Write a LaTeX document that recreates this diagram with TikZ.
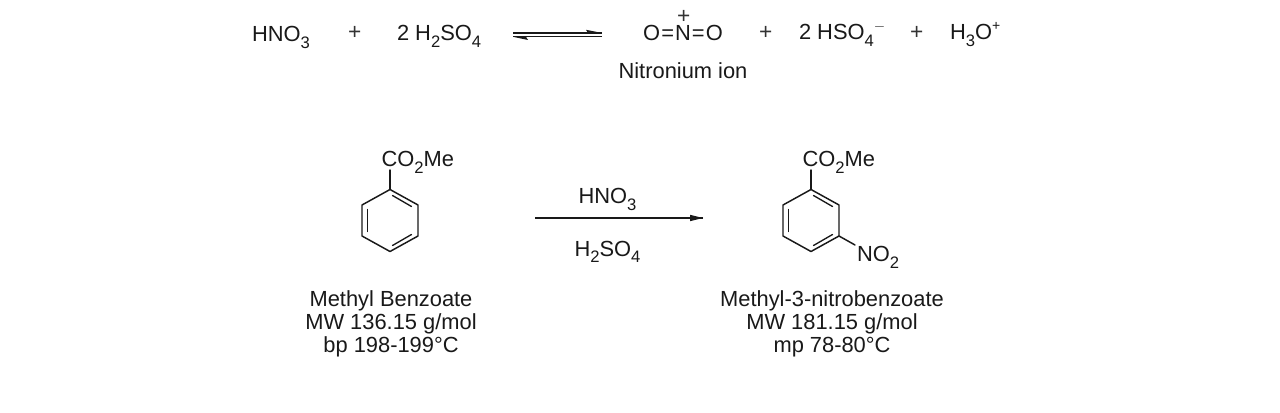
\documentclass[tikz,border=0pt]{standalone}
\usepackage{fontspec}
\setmainfont{Liberation Sans}
\usetikzlibrary{arrows.meta}
\tikzset{
  txt/.style={inner sep=0pt,outer sep=0pt,anchor=base west,font=\fontsize{16.4pt}{18pt}\selectfont,text=black!90},
  ctxt/.style={txt,anchor=base,align=center},
  captxt/.style={inner sep=0pt,outer sep=0pt,anchor=base,align=center,font=\fontsize{16.4pt}{17.3pt}\selectfont,text=black!90},
  plustxt/.style={txt,font=\fontsize{17pt}{18pt}\selectfont,text=black!80},
  bond/.style={draw=black!90,line width=1.1pt,line cap=round,line join=round},
  inner bond/.style={draw=black!90,line width=1pt,line cap=round},
  rxn/.style={draw=black!90,line width=0.95pt},
}
\newcommand{\subs}[1]{\raisebox{-0.32em}{\scalebox{0.76}{#1}}}
\newcommand{\sups}[1]{\raisebox{0.42em}{\fontsize{10.5pt}{12pt}\selectfont #1}}
\newcommand{\ringat}[3]{%
  \coordinate (#1t) at (#2,#3-31);
  \coordinate (#1tr) at (#2+28,#3-15.5);
  \coordinate (#1br) at (#2+28,#3+15.5);
  \coordinate (#1b) at (#2,#3+31);
  \coordinate (#1bl) at (#2-28,#3+15.5);
  \coordinate (#1tl) at (#2-28,#3-15.5);
  \draw[bond] (#1t) -- (#1tr) -- (#1br) -- (#1b) -- (#1bl) -- (#1tl) -- cycle;
  \draw[inner bond] (#2+2.5,#3-25) -- (#2+21.5,#3-14);
  \draw[inner bond] (#2+21.5,#3+14) -- (#2+2.5,#3+25);
  \draw[inner bond] (#2-22.5,#3-11) -- (#2-22.5,#3+11);
}
\begin{document}
\begin{tikzpicture}[x=0.75pt,y=-0.75pt]
\useasboundingbox (0,0) rectangle (1280,413);
\fill[white] (0,0) rectangle (1280,413);
% top equation
\node[txt] (hno) at (252,42) {HNO\subs{3}};
\node[plustxt] (p1) at (348,39.5) {+};
\node[txt] (hs) at (397,41) {2 H\subs{2}SO\subs{4}};
\coordinate (eqa) at (513,33);
\coordinate (eqb) at (602,33);
\coordinate (eqc) at (602,36.8);
\coordinate (eqd) at (513,36.8);
\draw[rxn] (eqa) -- (eqb);
\draw[rxn] (eqc) -- (eqd);
\coordinate (eqh1) at (586,29.8);
\coordinate (eqh2) at (588,33);
\coordinate (eqh3) at (528,40);
\coordinate (eqh4) at (526,36.8);
\fill[black!90] (eqb) -- (eqh1) -- (eqh2) -- cycle;
\fill[black!90] (eqd) -- (eqh3) -- (eqh4) -- cycle;
\node[ctxt] (nit) at (683,41) {O\kern0.8pt=\kern0.8pt N\kern0.8pt=\kern0.8pt O};
\node[plustxt] (nitp) at (677,24) {+};
\node[captxt] (nitlab) at (683,79) {Nitronium ion};
\node[plustxt] (p2) at (759,39.5) {+};
\node[txt] (hso) at (799,40) {2 HSO\subs{4}\sups{$-$}};
\node[plustxt] (p3) at (910,39.5) {+};
\node[txt] (hho) at (950,40) {H\subs{3}O\sups{+}};
% left molecule
\ringat{a}{390}{220.5}
\node[txt] (ame) at (381.5,167) {CO\subs{2}Me};
\coordinate (aco) at (390,170);
\draw[bond] (at) -- (aco);
\node[captxt] (acap) at (391,352.5) {Methyl Benzoate\\MW 136.15 g/mol\\bp 198-199°C};
% arrow
\coordinate (ra) at (535,218);
\coordinate (rb) at (703,218);
\draw[rxn] (ra) -- (rb);
\coordinate (rh1) at (690,214.8);
\coordinate (rh2) at (690,221.2);
\fill[black!90] (rb) -- (rh1) -- (rh2) -- cycle;
\node[ctxt] (rt) at (607.5,204) {HNO\subs{3}};
\node[ctxt] (rbt) at (607.5,256) {H\subs{2}SO\subs{4}};
% right molecule
\ringat{b}{811}{220.5}
\node[txt] (bme) at (802.5,167) {CO\subs{2}Me};
\coordinate (bco) at (811,170);
\draw[bond] (bt) -- (bco);
\node[txt] (bno) at (857,262) {NO\subs{2}};
\coordinate (bnb) at (855,245);
\draw[bond] (bbr) -- (bnb);
\node[captxt] (bcap) at (832,352.5) {Methyl-3-nitrobenzoate\\MW 181.15 g/mol\\mp 78-80°C};
\end{tikzpicture}
\end{document}
